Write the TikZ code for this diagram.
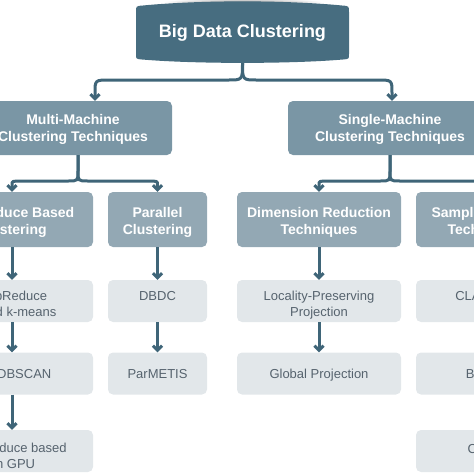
\documentclass[tikz,border=0pt]{standalone}
\usepackage{fontspec}
\setmainfont{Liberation Sans}
\usetikzlibrary{arrows.meta}
\definecolor{topc}{HTML}{476D80}
\definecolor{lvtwo}{HTML}{7A96A5}
\definecolor{lvthree}{HTML}{93A8B4}
\definecolor{lvfour}{HTML}{E2E7EA}
\definecolor{txtfour}{HTML}{56636E}
\definecolor{arr}{HTML}{3F6578}
\newcommand{\tx}[2]{\raisebox{#1}[\height][\depth]{\begin{tabular}{@{}c@{}}#2\end{tabular}}}
\begin{document}
\begin{tikzpicture}[x=1pt,y=-1pt,
  boxtwo/.style={fill=lvtwo, rounded corners=5pt, text=white,
    font=\fontsize{14}{17}\selectfont\bfseries,
    inner sep=0pt, minimum height=54pt},
  boxthree/.style={fill=lvthree, rounded corners=5pt, text=white,
    font=\fontsize{14}{17}\selectfont\bfseries,
    inner sep=0pt, minimum height=55pt},
  boxfour/.style={fill=lvfour, rounded corners=5pt, text=txtfour,
    font=\fontsize{13}{16}\selectfont,
    inner sep=0pt, minimum height=42pt},
  conn/.style={draw=arr, line width=3pt,
    -{Straight Barb[length=4.5pt,width=9pt]}},
]
\useasboundingbox (0,0) rectangle (474,474);
\clip (0,0) rectangle (474,474);

% shadow and top node
\shade[inner color=gray!80, outer color=white] (243,2) ellipse (80pt and 4pt);
\fill[topc] (136,12) .. controls (136,6) .. (143,5.5)
  .. controls (200,0) and (285,0) .. (342,5.5)
  .. controls (349,6) .. (349,12) -- (349,54)
  .. controls (349,59) .. (343,59.5)
  .. controls (290,64) and (195,64) .. (142,59.5)
  .. controls (136,59) .. (136,54) -- cycle;
\node[text=white, font=\fontsize{18}{21}\selectfont\bfseries,
  minimum width=213pt, minimum height=60pt, inner sep=0pt]
  (bdc) at (242.5,33) {Big Data Clustering};

% level 2
\node[boxtwo, minimum width=198pt] (mm) at (73,128) {\tx{-2pt}{Multi-Machine\\Clustering Techniques}};
\node[boxtwo, minimum width=204pt] (sm) at (390,128) {\tx{-2pt}{Single-Machine\\Clustering Techniques}};

% level 3
\node[boxthree, minimum width=162pt] (mr) at (12,219.5) {\tx{-3pt}{MapReduce Based\\Clustering}};
\node[boxthree, minimum width=99pt] (pc) at (157.5,219.5) {\tx{-3pt}{Parallel\\Clustering}};
\node[boxthree, minimum width=164pt] (dr) at (319,219.5) {\tx{-3pt}{Dimension Reduction\\Techniques}};
\node[boxthree, minimum width=140pt] (sb) at (486,219.5) {\tx{-3pt}{Sampling Based\\Techniques}};

% level 4
\node[boxfour, minimum width=162pt] (km) at (12,301) {\tx{-4pt}{MapReduce\\based k-means}};
\node[boxfour, minimum width=162pt] (db) at (12,373.5) {\tx{-1.7pt}{MR-DBSCAN}};
\node[boxfour, minimum width=162pt] (gp) at (12,451) {\tx{-5.8pt}{MapReduce based\\on GPU}};
\node[boxfour, minimum width=99pt] (dbdc) at (157.5,301) {\tx{3.4pt}{DBDC}};
\node[boxfour, minimum width=99pt] (pm) at (157.5,373.5) {\tx{-1.7pt}{ParMETIS}};
\node[boxfour, minimum width=164pt] (lpp) at (319,301) {\tx{-4pt}{Locality-Preserving\\Projection}};
\node[boxfour, minimum width=164pt] (glp) at (319,373.5) {\tx{-1.7pt}{Global Projection}};
\node[boxfour, minimum width=140pt] (cl) at (486,301) {\tx{3.4pt}{CLARANS}};
\node[boxfour, minimum width=140pt] (bi) at (486,373.5) {\tx{-1.7pt}{BIRCH}};
\node[boxfour, minimum width=140pt] (cu) at (486,451) {\tx{1pt}{CURE}};

% connectors from top
\draw[conn] (bdc.south) .. controls (242.5,80) .. (228,80) -- (110,80)
  .. controls (95,80) .. (95,93) -- ([xshift=22pt]mm.north);
\draw[conn] (bdc.south) .. controls (242.5,80) .. (257,80) -- (377,80)
  .. controls (392,80) .. (392,93) -- ([xshift=2pt]sm.north);

% multi-machine branches
\draw[conn] ([xshift=5pt]mm.south) -- (78,171) .. controls (78,181) .. (68,181) -- (22,181)
  .. controls (12,181) .. (12,185) -- (mr.north);
\draw[conn] ([xshift=5pt]mm.south) -- (78,171) .. controls (78,181) .. (88,181) -- (147.5,181)
  .. controls (157.5,181) .. (157.5,185) -- (pc.north);

% single-machine branches
\draw[conn] (sm.south) -- (390,171) .. controls (390,181) .. (380,181) -- (329,181)
  .. controls (319,181) .. (319,185) -- (dr.north);
\draw[conn] (sm.south) -- (390,171) .. controls (390,181) .. (400,181) -- (476,181)
  .. controls (486,181) .. (486,185) -- (sb.north);

% vertical arrows
\draw[conn] (mr.south) -- (km.north);
\draw[conn] (km.south) -- (db.north);
\draw[conn] (db.south) -- (gp.north);
\draw[conn] (pc.south) -- (dbdc.north);
\draw[conn] (dbdc.south) -- (pm.north);
\draw[conn] (dr.south) -- (lpp.north);
\draw[conn] (lpp.south) -- (glp.north);
\draw[conn] (sb.south) -- (cl.north);
\draw[conn] (cl.south) -- (bi.north);
\draw[conn] (bi.south) -- (cu.north);
\end{tikzpicture}
\end{document}
